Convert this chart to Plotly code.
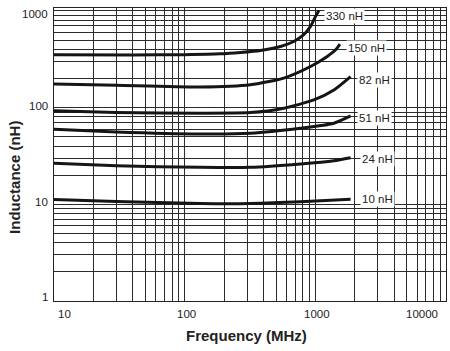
import numpy as np
import plotly.graph_objects as go

# ---- data ----
series_names = ["10 nH", "24 nH", "51 nH", "82 nH", "150 nH", "330 nH"]
freq_10 = [10, 30, 132, 318, 769, 1862]
ind_10 = [11.2, 10.7, 10.2, 10.2, 10.6, 11.3]
freq_24 = [10, 30, 132, 318, 769, 1387, 1862]
ind_24 = [26.5, 25.0, 24.1, 24.1, 26.1, 28.2, 30.3]
freq_51 = [10, 30, 132, 318, 769, 1387, 1862]
ind_51 = [59.7, 56.0, 53.4, 54.3, 61.2, 68.9, 82.0]
freq_82 = [10, 30, 132, 318, 574, 975, 1387, 1862]
ind_82 = [93, 89, 87.5, 88.8, 98.6, 120, 152, 209]
freq_150 = [10, 30, 132, 318, 574, 918, 1233, 1430, 1542]
ind_150 = [175, 170, 163, 172, 202, 266, 338, 396, 454]
freq_330 = [10, 40, 100, 188, 267, 380, 541, 684, 816, 918, 1004, 1064]
ind_330 = [352, 350, 353, 360, 372, 390, 429, 483, 567, 691, 877, 1012]

label_freq = [2183, 2183, 2094, 2094, 1703, 1156]
label_ind = [11.3, 29.4, 78.4, 194, 415, 891]

x_tick_vals = [10, 100, 1000, 10000]
x_tick_text = ["10", "100", "1000", "10000"]
y_tick_vals = [1, 10, 100, 1000]
y_tick_text = ["1", "10", "100", "1000"]

x_grid = [m * 10 ** e for e in range(1, 4) for m in range(1, 10)] + [10000]
y_grid = [m * 10 ** e for e in range(0, 3) for m in range(1, 10)] + [1000]

series = [(freq_10, ind_10), (freq_24, ind_24), (freq_51, ind_51),
          (freq_82, ind_82), (freq_150, ind_150), (freq_330, ind_330)]

FONT = "Liberation Sans, Arial, sans-serif"
fig = go.Figure()
for name, (f, l) in zip(series_names, series):
    fig.add_trace(go.Scatter(x=f, y=l, mode="lines", name=name,
                             line=dict(color="#151515", width=3, shape="spline", smoothing=0.6),
                             showlegend=False, hoverinfo="skip"))

grid_col = "#2b2b2b"
fig.update_xaxes(type="log", range=[1, 4], tickvals=x_grid, showticklabels=False,
                 showgrid=True, gridcolor=grid_col, gridwidth=1,
                 showline=True, linecolor="#222", linewidth=1, mirror=True,
                 ticks="", zeroline=False)
fig.update_yaxes(type="log", range=[0, 3.03], tickvals=y_grid, showticklabels=False,
                 showgrid=True, gridcolor=grid_col, gridwidth=1,
                 showline=True, linecolor="#222", linewidth=1, mirror=True,
                 ticks="", zeroline=False)

ann = []
# curve labels
for name, f, l in zip(series_names, label_freq, label_ind):
    ann.append(dict(x=np.log10(f), y=np.log10(l), xref="x", yref="y", text=name,
                    showarrow=False, xanchor="left", yanchor="middle",
                    bgcolor="white", borderpad=1,
                    font=dict(family=FONT, size=11.5, color="#222")))
# x tick labels
for i, (v, t) in enumerate(zip(x_tick_vals, x_tick_text)):
    anchor = "left" if i == 0 else ("right" if i == len(x_tick_vals) - 1 else "center")
    xs = 2 if i == 0 else (-6 if i == len(x_tick_vals) - 1 else 2)
    ann.append(dict(x=np.log10(v), y=0, xref="x", yref="paper", text=t, showarrow=False,
                    xanchor=anchor, yanchor="top", yshift=-5, xshift=xs,
                    font=dict(family=FONT, size=11.5, color="#222")))
# y tick labels
for i, (v, t) in enumerate(zip(y_tick_vals, y_tick_text)):
    ys = 4 if i == 0 else (-3 if i == len(y_tick_vals) - 1 else 2)
    ann.append(dict(x=0, y=np.log10(v), xref="paper", yref="y", text=t, showarrow=False,
                    xanchor="right", yanchor="middle", xshift=-4, yshift=ys,
                    font=dict(family=FONT, size=11.5, color="#222")))
# axis titles
ann.append(dict(x=0.5, y=0, xref="paper", yref="paper", text="<b>Frequency (MHz)</b>",
                showarrow=False, xanchor="center", yanchor="middle", yshift=-34, xshift=-4,
                font=dict(family=FONT, size=15, color="#222")))
ann.append(dict(x=0, y=0.42, xref="paper", yref="paper", text="<b>Inductance (nH)</b>",
                showarrow=False, xanchor="center", yanchor="middle", xshift=-39, textangle=-90,
                font=dict(family=FONT, size=15, color="#222")))

fig.update_layout(width=450, height=351, margin=dict(l=54, r=4, t=8, b=50),
                  paper_bgcolor="white", plot_bgcolor="white", annotations=ann)
fig.write_html("out.html")
